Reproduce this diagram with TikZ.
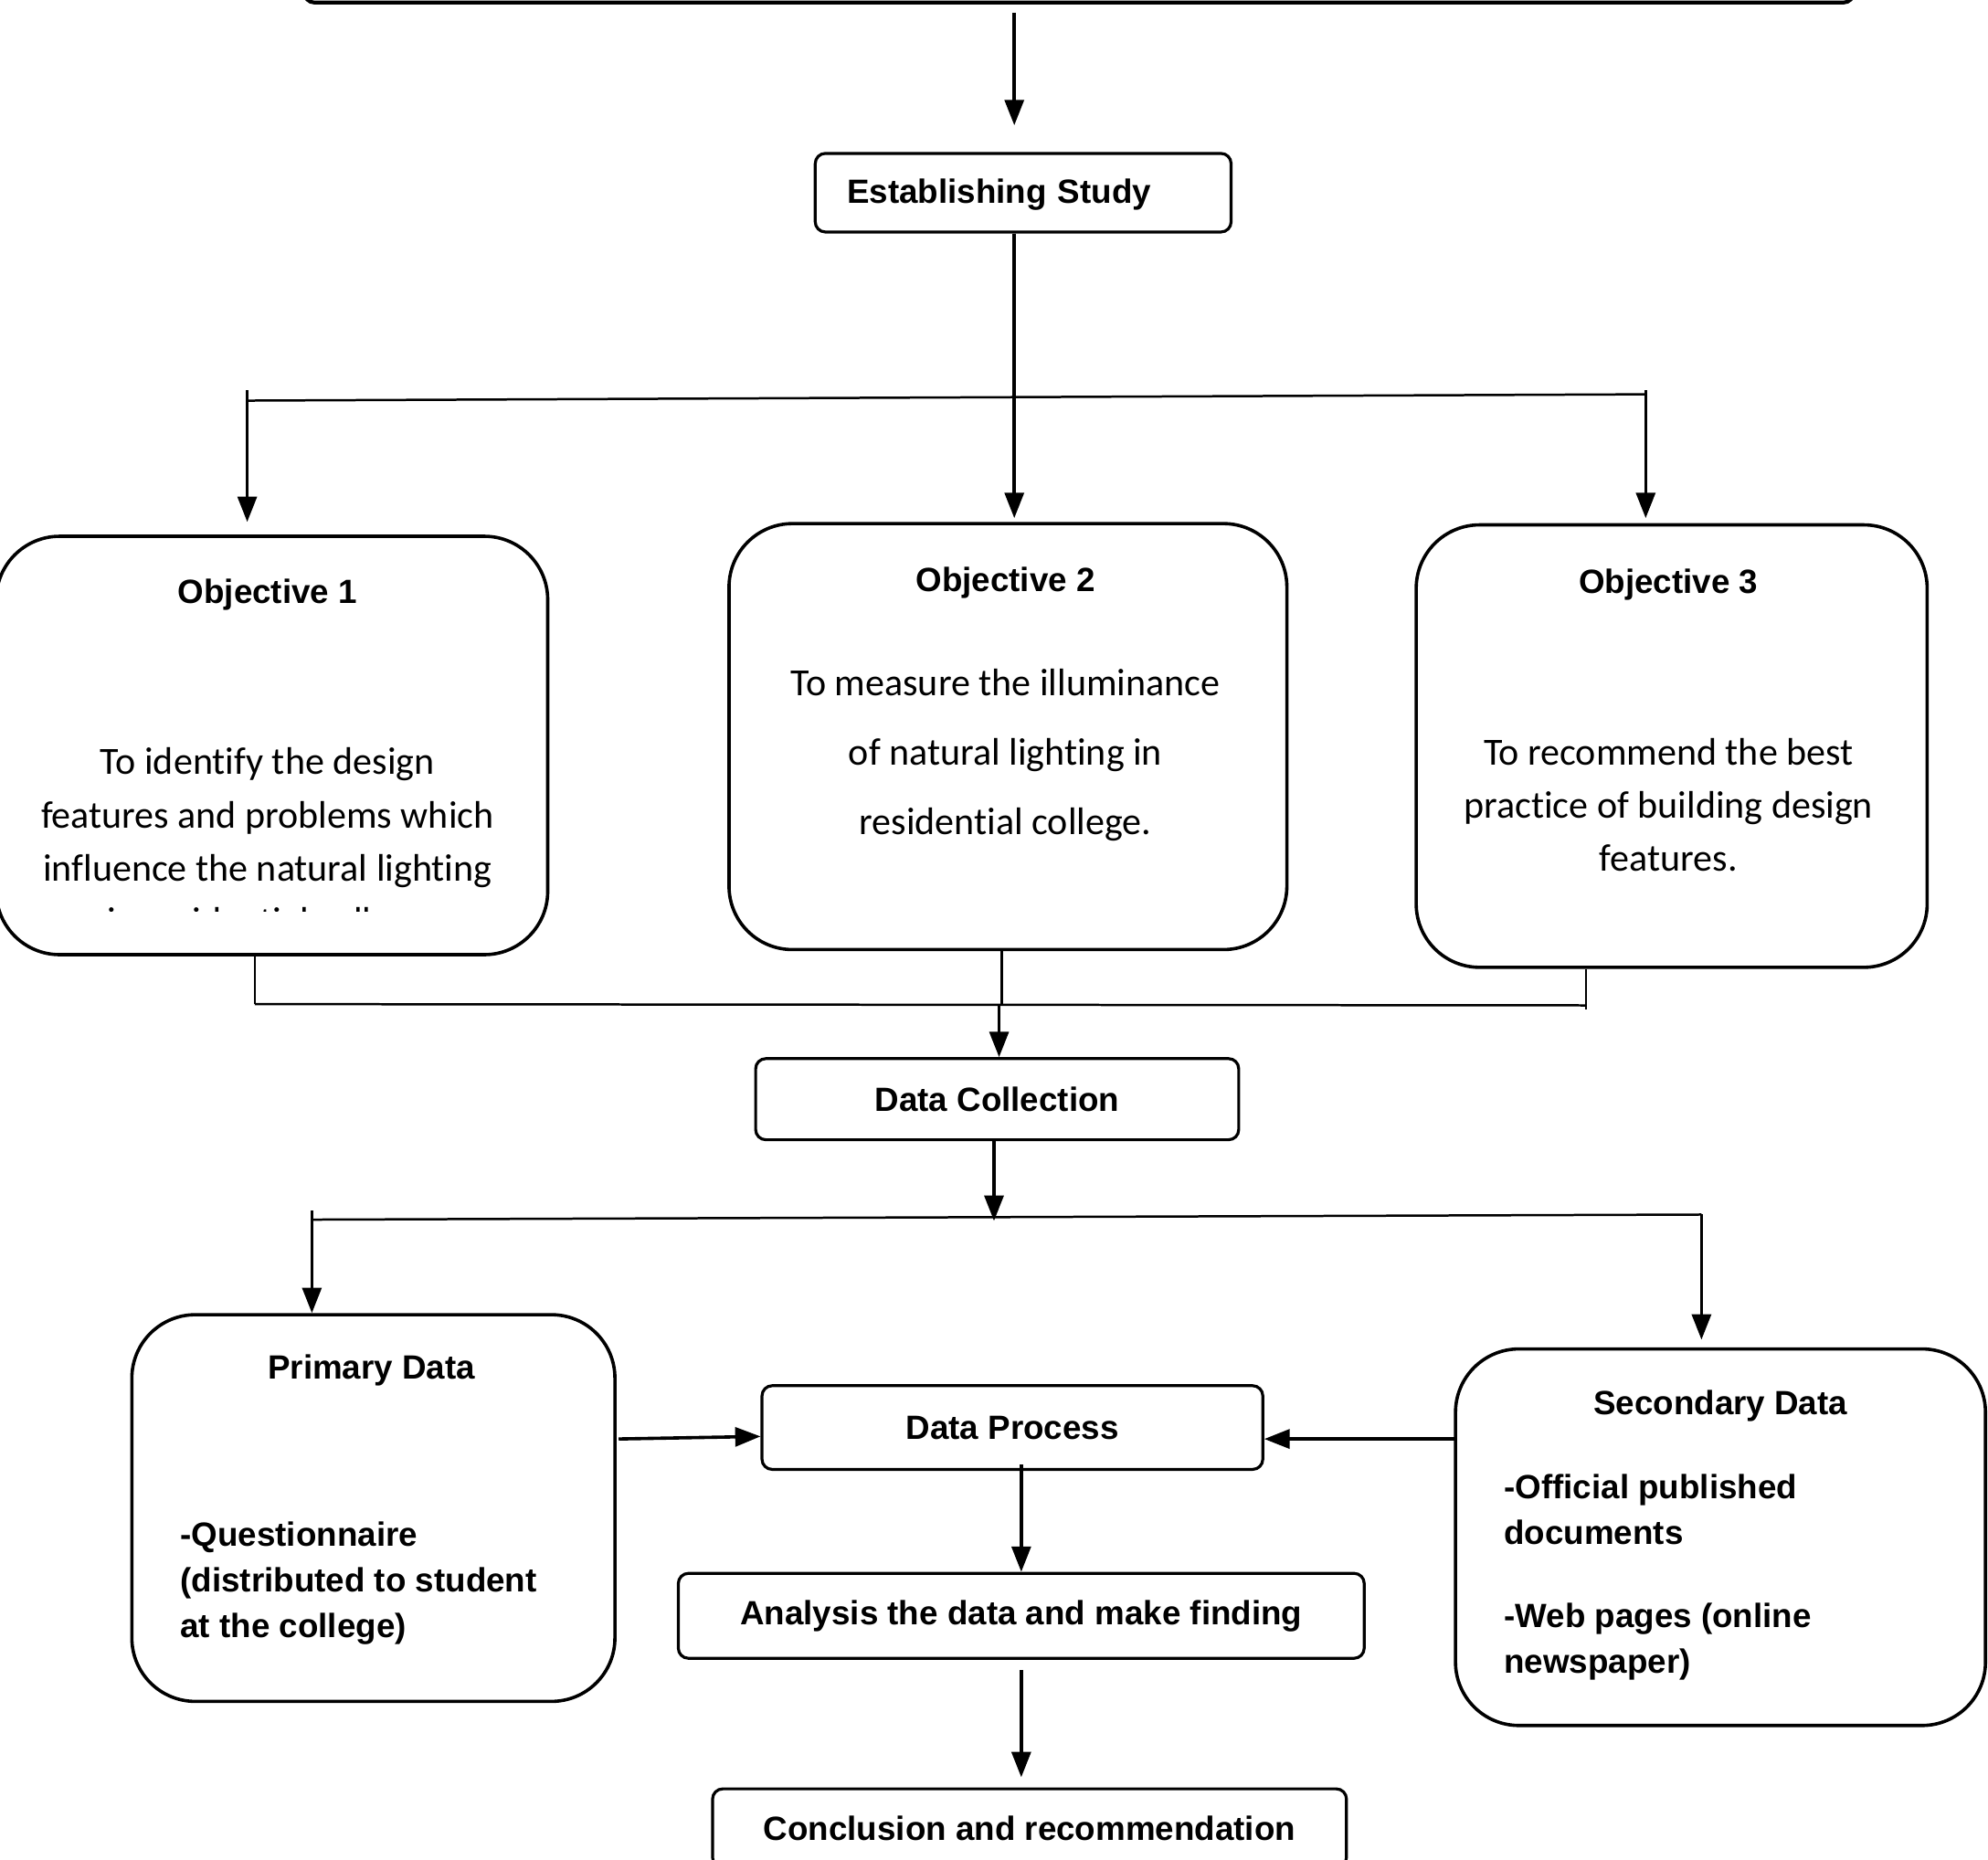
\documentclass[tikz,border=0pt]{standalone}
\usepackage{fontspec}
\setmainfont{Liberation Sans}
\newfontfamily\calibri[Ligatures=NoCommon]{Carlito}
\usetikzlibrary{arrows.meta,positioning}
\newcommand{\boxfont}{\fontsize{26.5}{36}\selectfont\bfseries}
\newcommand{\objfont}{\calibri\fontsize{30.3}{42}\selectfont}
\tikzset{
  box/.style={draw, line width=2.3pt, rounded corners=8pt, inner sep=0pt, font=\boxfont},
  bigbox/.style={draw, line width=2.6pt, rounded corners=50pt, inner sep=0pt},
  title/.style={inner sep=0pt, font=\boxfont},
  body/.style={inner sep=0pt, align=center, font=\objfont},
  list/.style={inner sep=0pt, align=left, anchor=west, font=\boxfont},
  bus/.style={line width=1.8pt},
}

\begin{document}
\begin{tikzpicture}[x=1pt, y=-1pt, >={Triangle[length=20pt,width=15pt]}, line width=2.6pt]
	\useasboundingbox (0,0) rectangle (1568,1467);
	\clip (0,0) rectangle (1568,1467);
	% boxes
	\node[box, line width=3pt, minimum width=1222pt, minimum height=80pt] (aim) at (851,-38) {};
	\node[box, text width=278pt, align=left, inner xsep=25pt, minimum height=62pt, text depth=3pt] (estab) at (807,152) {Establishing Study};
	\node[bigbox, minimum width=435pt, minimum height=330pt] (obj1) at (214.5,588) {};
	\node[bigbox, minimum width=440pt, minimum height=336pt] (obj2) at (795,581) {};
	\node[bigbox, minimum width=403pt, minimum height=349pt] (obj3) at (1318.5,588.5) {};
	\node[title] (obj1t) at (211,469) {Objective 1};
	\node[title] (obj2t) at (793,460) {Objective 2};
	\node[title] (obj3t) at (1316,461) {Objective 3};
	\begin{scope}
		\clip (0,0) rectangle (1568,719);
		\node[body] (obj1b) at (211,666) {To identify the design\\features and problems which\\influence the natural lighting\\in residential college};
	\end{scope}
	\node[body] (obj2b) at (793,595.5) {To measure the illuminance\\[13pt]of natural lighting in\\[13pt]residential college.};
	\node[body] (obj3b) at (1316,635) {To recommend the best\\practice of building design\\features.};
	\node[box, minimum width=381pt, minimum height=64pt] (collect) at (786.5,867) {Data Collection};
	\node[bigbox, minimum width=381pt, minimum height=305pt] (primary) at (294.5,1189.5) {};
	\node[title] (primaryt) at (293,1081) {Primary Data};
	\node[list] (primaryl) at (141,1249) {-Questionnaire\\(distributed to student\\at the college)};
	\node[box, minimum width=395pt, minimum height=66pt] (process) at (798.5,1126) {Data Process};
	\node[bigbox, minimum width=418pt, minimum height=297pt] (secondary) at (1357,1212.5) {};
	\node[title] (secondaryt) at (1357,1109) {Secondary Data};
	\node[list] (secondaryl) at (1185,1244) {-Official published\\documents\\[30pt]-Web pages (online\\newspaper)};
	\node[box, minimum width=541pt, minimum height=67pt] (analysis) at (805.5,1274.5) {Analysis the data and make finding};
	\node[box, minimum width=500pt, minimum height=62pt] (concl) at (812,1442) {Conclusion and recommendation};
	% connectors
	\coordinate (s0) at (800,10);
	\draw[->, shorten >=21pt] (s0) -- (s0 |- estab.north);
	\draw[->, shorten >=3pt] (estab.south -| s0) -- (s0 |- obj2.north);
	\coordinate (busl) at (195,316);
	\coordinate (busr) at (1298,311);
	\draw[bus] (busl) -- (busr);
	\draw[->, shorten >=10pt] ([yshift=8pt]busl) -- (busl |- obj1.north);
	\draw[->, shorten >=4pt] ([yshift=3pt]busr) -- (busr |- obj3.north);
	\coordinate (midl) at (201,792);
	\coordinate (midc) at (790,792);
	\coordinate (midr) at (1251,793);
	\draw[bus] (midl) -- (midr);
	\draw[bus] (midl |- obj1.south) -- (midl);
	\draw[bus] (midc |- obj2.south) -- (midc);
	\draw[bus] (midr |- obj3.south) -- ([yshift=-3pt]midr);
	\draw[->] ([xshift=-2pt]midc) -- (collect.north -| 788,0);
	\coordinate (lowc) at (784,961);
	\coordinate (lowl) at (246,962);
	\coordinate (lowr) at (1342,958);
	\draw[->] (lowc |- collect.south) -- ([yshift=-2pt]lowc);
	\draw[bus] (lowl) -- (lowr);
	\draw[->] ([yshift=7pt]lowl) -- (lowl |- primary.north);
	\draw[->, shorten >=6pt] (lowr) -- (lowr |- secondary.north);
	\coordinate (pin) at (488,1135);
	\draw[->] (pin) -- ([yshift=-7pt]process.west);
	\coordinate (sin) at (1148,1135);
	\draw[->] (sin) -- (sin -| process.east);
	\draw[->] ([yshift=5pt]process.south -| analysis.north) -- (analysis.north);
	\draw[->, shorten <=8pt, shorten >=8pt] (analysis.south) -- (analysis.south |- concl.north);
\end{tikzpicture}
\end{document}
